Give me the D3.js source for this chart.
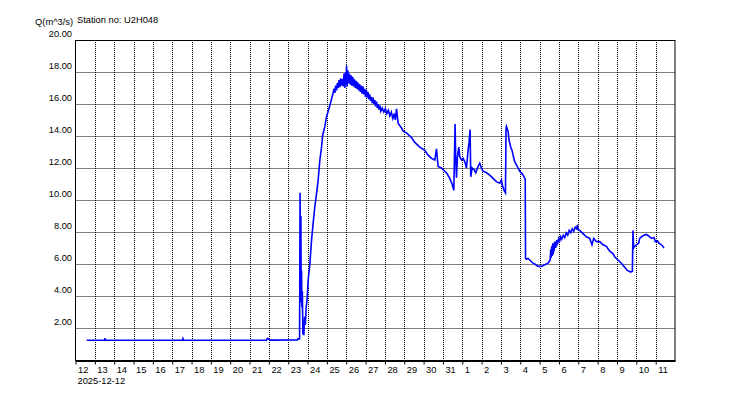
<!DOCTYPE html>
<html>
<head>
<meta charset="utf-8">
<script src="https://cdn.jsdelivr.net/npm/d3@7"></script>
<style>
body { margin: 0; background: #fff; }
svg { display: block; font-family: "Liberation Sans", Arial, sans-serif; }
</style>
</head>
<body>
<div id="chart"></div>
<script>
///data - days since 2025-12-12 00:00 and discharge (m^3/s)
const startDate = new Date(2025, 11, 12);
const endDate = new Date(2026, 0, 12);
const stationLabel = "Station no: U2H048";
const unitLabel = "Q(m^3/s)";
const yTicks = [2, 4, 6, 8, 10, 12, 14, 16, 18, 20];

const dayOffset = [
  // 12 Dec - 25 Dec: base flow and storm rise
  0.579, 1.499, 1.525, 1.550, 5.530, 5.556, 5.581, 9.871, 9.922, 10.0,
  10.052, 11.473, 11.499, 11.587, 11.612, 11.633, 11.654, 11.669, 11.690, 11.705,
  11.731, 11.757, 11.783, 11.809, 11.845, 11.886, 11.928, 11.979, 12.031, 12.119,
  12.207, 12.289, 12.377, 12.465, 12.548, 12.636, 12.723, 12.775, 12.894, 12.982,
  13.152,
  // peak, noisy
  13.323, 13.370, 13.411, 13.452, 13.499, 13.540, 13.581, 13.628, 13.669, 13.711,
  13.757, 13.798, 13.840, 13.886, 13.928, 13.969, 13.995, 14.016, 14.047, 14.083,
  14.124, 14.165, 14.207, 14.248, 14.289, 14.336, 14.377, 14.424, 14.465, 14.512,
  14.553, 14.599, 14.641, 14.687, 14.729, 14.775, 14.817, 14.863, 14.904, 14.951,
  14.992, 15.039, 15.080, 15.127, 15.168, 15.214, 15.256, 15.302, 15.344, 15.390,
  15.432, 15.478, 15.519, 15.566, 15.607, 15.654, 15.695, 15.742, 15.788, 15.866,
  15.943, 16.021, 16.098, 16.176, 16.253, 16.331, 16.408, 16.486, 16.537, 16.599,
  16.682,
  // recession to 4 Jan
  16.858, 16.941, 17.116, 17.375, 17.545, 17.804, 18.062, 18.233, 18.408, 18.579,
  18.667, 18.749, 18.925, 19.096, 19.183, 19.354, 19.473, 19.561, 19.628, 19.664,
  19.700, 19.752, 19.819, 19.871, 19.959, 20.041, 20.129, 20.217, 20.300, 20.351,
  20.403, 20.439, 20.506, 20.610, 20.698, 20.817, 20.904, 20.992, 21.075, 21.251,
  21.421, 21.592, 21.767, 21.938, 22.026, 22.078, 22.160, 22.233, 22.264, 22.284,
  22.367, 22.419, 22.506, 22.574, 22.646, 22.713, 22.801, 22.884, 22.972, 23.090,
  23.194, 23.256, 23.271, 23.318, 23.400, 23.488, 23.659, 23.747, 23.917, 24.093,
  24.264, 24.434,
  // rise 5-7 Jan, noisy
  24.522, 24.548, 24.574, 24.599, 24.625, 24.651, 24.677, 24.703, 24.729, 24.755,
  24.780, 24.832, 24.884, 24.935, 24.987, 25.039, 25.090, 25.142, 25.220, 25.297,
  25.375, 25.452, 25.530, 25.607, 25.685, 25.762, 25.840, 25.917, 25.953, 25.995,
  26.072,
  // 7 - 11 Jan
  26.243, 26.419, 26.589, 26.708, 26.796, 26.935, 27.106, 27.276, 27.452, 27.623,
  27.793, 27.881, 28.052, 28.227, 28.398, 28.537, 28.708, 28.796, 28.827, 28.863,
  28.915, 29.003, 29.121, 29.173, 29.261, 29.395, 29.519, 29.638, 29.778, 29.912,
  29.984, 30.088, 30.171, 30.295, 30.377, 30.429
];
const flow = [
  1.23, 1.23, 1.36, 1.23, 1.23, 1.33, 1.23, 1.24, 1.35, 1.30,
  1.24, 1.25, 1.32, 1.32, 10.45, 3.6, 9.0, 4.0, 5.6, 3.3,
  4.3, 1.6, 2.1, 1.55, 2.7, 2.2, 3.3, 3.8, 5.0, 6.0,
  7.5, 8.55, 9.6, 10.4, 11.25, 12.5, 13.3, 14.0, 14.6, 15.2,
  15.9,

  16.7, 16.95, 16.7, 17.15, 16.85, 17.3, 17.0, 17.5, 17.05, 17.6,
  17.15, 17.55, 17.1, 17.9, 17.0, 18.0, 17.2, 18.4, 17.1, 18.1,
  17.3, 17.9, 17.2, 17.8, 17.15, 17.7, 17.1, 17.55, 17.0, 17.45,
  16.95, 17.35, 16.85, 17.25, 16.75, 17.15, 16.65, 17.1, 16.6, 16.95,
  16.45, 16.9, 16.4, 16.75, 16.3, 16.6, 16.2, 16.45, 16.05, 16.4,
  16.0, 16.25, 15.85, 16.15, 15.75, 16.0, 15.65, 15.9, 15.55, 15.75,
  15.5, 15.7, 15.4, 15.6, 15.25, 15.5, 15.1, 15.4, 15.0, 15.7,
  14.8,

  14.5, 14.3, 14.2, 13.9, 13.6, 13.3, 13.1, 12.8, 12.6, 12.5,
  13.2, 12.1, 12.0, 11.8, 11.7, 11.35, 11.0, 10.6, 14.75, 12.5,
  11.4, 12.7, 13.3, 12.7, 12.5, 12.6, 12.4, 12.0, 13.1, 13.6,
  14.4, 11.45, 12.0, 11.9, 11.7, 12.1, 12.3, 12.0, 11.8, 11.7,
  11.55, 11.35, 11.15, 11.05, 11.25, 10.9, 10.6, 10.45, 14.5, 14.6,
  14.3, 13.75, 13.3, 13.1, 12.7, 12.4, 12.2, 12.0, 11.8, 11.65,
  11.45, 11.3, 6.35, 6.3, 6.35, 6.25, 6.05, 6.0, 5.85, 5.85,
  5.95, 6.05,

  6.2, 6.3, 6.9, 6.4, 7.1, 6.5, 7.3, 6.6, 7.3, 6.8,
  7.4, 7.0, 7.5, 7.3, 7.6, 7.45, 7.7, 7.55, 7.8, 7.65,
  7.95, 7.8, 8.1, 7.95, 8.2, 8.05, 8.3, 8.2, 8.45, 8.15,
  8.1,

  7.9, 7.7, 7.6, 7.2, 7.6, 7.4, 7.4, 7.2, 7.1, 6.8,
  6.65, 6.45, 6.25, 6.05, 5.8, 5.6, 5.5, 5.55, 8.1, 7.0,
  7.1, 7.2, 7.3, 7.6, 7.7, 7.8, 7.85, 7.75, 7.6, 7.65,
  7.4, 7.45, 7.3, 7.2, 7.1, 7.0
];

///vars
const w = 750, h = 400;
const plotLeft = 75.5, plotRight = 675, plotTop = 40, plotBottom = 360;

const svg = d3.select("#chart").append("svg")
  .attr("width", w)
  .attr("height", h);

const x = d3.scaleTime().domain([startDate, endDate]).range([plotLeft, plotRight]);
const y = d3.scaleLinear().domain([0, 20]).range([plotBottom, plotTop]);

const data = dayOffset.map((d, i) => ({
  t: new Date(startDate.getTime() + d * 864e5),
  q: flow[i]
}));

const days = d3.timeDay.range(startDate, endDate);

///grid (dotted)
svg.append("g").selectAll("line")
  .data(days.slice(1))
  .join("line")
  .attr("x1", d => Math.round(x(d)) + 0.5)
  .attr("x2", d => Math.round(x(d)) + 0.5)
  .attr("y1", plotTop)
  .attr("y2", plotBottom)
  .attr("stroke", "#000")
  .attr("stroke-dasharray", "1,1");

svg.append("g").selectAll("line")
  .data(yTicks.filter(v => v < 20))
  .join("line")
  .attr("x1", plotLeft)
  .attr("x2", plotRight)
  .attr("y1", d => Math.round(y(d)) + 0.5)
  .attr("y2", d => Math.round(y(d)) + 0.5)
  .attr("stroke", "#000")
  .attr("stroke-dasharray", "1,1");

///frame
svg.append("rect")
  .attr("x", plotLeft)
  .attr("y", plotTop + 0.5)
  .attr("width", plotRight - plotLeft)
  .attr("height", plotBottom - plotTop)
  .attr("fill", "none")
  .attr("stroke", "#000");

///x axis
const xAxis = d3.axisBottom(x)
  .tickValues(days)
  .tickFormat(d3.timeFormat("%-d"))
  .tickSize(4)
  .tickSizeOuter(0);

const gx = svg.append("g")
  .attr("transform", "translate(0," + (plotBottom + 0.5) + ")")
  .call(xAxis);
gx.select(".domain").attr("stroke-width", 2);
gx.selectAll(".tick text")
  .attr("text-anchor", "start")
  .attr("x", 2)
  .attr("y", 12)
  .attr("dy", 0)
  .attr("fill", "#000")
  .style("font-size", "9.3px")
  .style("font-family", "'Liberation Sans', Arial, sans-serif");

svg.append("text")
  .attr("x", plotLeft + 2)
  .attr("y", 384)
  .style("font-size", "9.3px")
  .text(d3.timeFormat("%Y-%m-%d")(startDate));

///y labels
svg.append("g").selectAll("text")
  .data(yTicks)
  .join("text")
  .attr("x", 72)
  .attr("y", d => y(d) - 3)
  .attr("text-anchor", "end")
  .style("font-size", "9.3px")
  .text(d => d3.format(".2f")(d));

///titles
svg.append("text")
  .attr("x", 73)
  .attr("y", 24.5)
  .attr("text-anchor", "end")
  .style("font-size", "9.3px")
  .text(unitLabel);

svg.append("text")
  .attr("x", 77)
  .attr("y", 23)
  .style("font-size", "9.3px")
  .text(stationLabel);

///line
const line = d3.line()
  .x(d => x(d.t))
  .y(d => y(d.q));

svg.append("path")
  .datum(data)
  .attr("fill", "none")
  .attr("stroke", "#0000ff")
  .attr("stroke-width", 1.6)
  .attr("stroke-linejoin", "miter")
  .attr("d", line);
</script>
</body>
</html>
